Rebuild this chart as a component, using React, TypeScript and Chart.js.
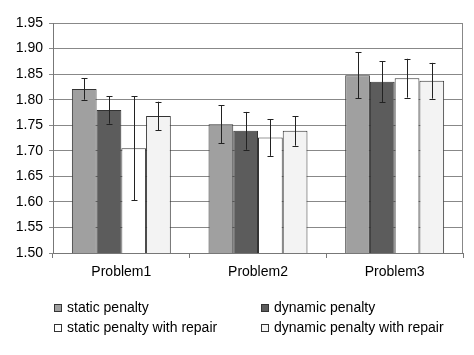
import React, { useEffect, useRef } from "react";
import { Chart, registerables } from "chart.js";

Chart.register(...registerables);

const categories = ["Problem1", "Problem2", "Problem3"];
const seriesNames = [
  "static penalty",
  "dynamic penalty",
  "static penalty with repair",
  "dynamic penalty with repair",
];
const staticPenalty = [1.821, 1.752, 1.848];
const dynamicPenalty = [1.78, 1.739, 1.835];
const staticRepair = [1.705, 1.726, 1.842];
const dynamicRepair = [1.768, 1.739, 1.837];
const staticPenaltyErr = [0.021, 0.037, 0.045];
const dynamicPenaltyErr = [0.027, 0.037, 0.04];
const staticRepairErr = [0.102, 0.036, 0.038];
const dynamicRepairErr = [0.028, 0.029, 0.035];
const yTicks = [1.5, 1.55, 1.6, 1.65, 1.7, 1.75, 1.8, 1.85, 1.9, 1.95];

const colors = ["#a0a0a0", "#5c5c5c", "#ffffff", "#f3f3f3"];
const FONT = "'Liberation Sans', Arial, sans-serif";

export default function App() {
  const ref = useRef<HTMLCanvasElement | null>(null);

  useEffect(() => {
    if (!ref.current) return;
    const values = [staticPenalty, dynamicPenalty, staticRepair, dynamicRepair];
    const errs = [staticPenaltyErr, dynamicPenaltyErr, staticRepairErr, dynamicRepairErr];

    const errorBars = {
      id: "errorBars",
      afterDatasetsDraw(chart: any) {
        const ctx = chart.ctx;
        const ys = chart.scales.y;
        ctx.save();
        ctx.strokeStyle = "#222";
        ctx.lineWidth = 1;
        values.forEach((vals, i) => {
          const meta = chart.getDatasetMeta(i);
          meta.data.forEach((el: any, j: number) => {
            const x = Math.round(el.x) + 0.5;
            const t = ys.getPixelForValue(vals[j] + errs[i][j]);
            const b = ys.getPixelForValue(vals[j] - errs[i][j]);
            ctx.beginPath();
            ctx.moveTo(x, t);
            ctx.lineTo(x, b);
            ctx.moveTo(x - 3, Math.round(t) + 0.5);
            ctx.lineTo(x + 3, Math.round(t) + 0.5);
            ctx.moveTo(x - 3, Math.round(b) + 0.5);
            ctx.lineTo(x + 3, Math.round(b) + 0.5);
            ctx.stroke();
          });
        });
        ctx.restore();
      },
      afterDraw(chart: any) {
        const ctx = chart.ctx;
        const a = chart.chartArea;
        ctx.save();
        ctx.strokeStyle = "#888";
        ctx.lineWidth = 1;
        const rx = Math.round(a.right) - 0.5;
        ctx.beginPath();
        ctx.moveTo(rx, a.top);
        ctx.lineTo(rx, a.bottom);
        ctx.stroke();
        // legend
        const cols = [a.left + 1, a.left + 208];
        const rows = [a.bottom + 55, a.bottom + 75];
        ctx.font = "14px " + FONT;
        ctx.textBaseline = "middle";
        ctx.textAlign = "left";
        seriesNames.forEach((name, i) => {
          const x = Math.round(cols[i % 2]);
          const y = Math.round(rows[Math.floor(i / 2)]);
          ctx.fillStyle = colors[i];
          ctx.fillRect(x, y - 4, 7, 7);
          ctx.strokeStyle = "#333";
          ctx.strokeRect(x + 0.5, y - 3.5, 7, 7);
          ctx.fillStyle = "#000";
          ctx.fillText(name, x + 13, y);
        });
        ctx.restore();
      },
    };

    const chart = new Chart(ref.current, {
      type: "bar",
      data: {
        labels: categories,
        datasets: values.map((v, i) => ({
          label: seriesNames[i],
          data: v,
          backgroundColor: colors[i],
          borderColor: "#333",
          borderWidth: 1,
          barPercentage: 1,
          categoryPercentage: 0.724,
        })),
      },
      options: {
        animation: false,
        responsive: true,
        maintainAspectRatio: false,
        layout: { padding: { left: 0, top: 23, right: 11, bottom: 0 } },
        plugins: { legend: { display: false }, tooltip: { enabled: false } },
        scales: {
          x: {
            afterFit(scale: any) {
              scale.height = 102;
            },
            grid: {
              display: true,
              drawOnChartArea: false,
              drawTicks: true,
              tickLength: 5,
              color: "#777",
              offset: true,
            },
            border: { display: true, color: "#777" },
            ticks: {
              color: "#000",
              font: { family: FONT, size: 14 },
              padding: 6,
            },
          },
          y: {
            min: 1.5,
            max: 1.95,
            afterFit(scale: any) {
              scale.width = 53;
            },
            afterBuildTicks(scale: any) {
              scale.ticks = yTicks.map((v) => ({ value: v }));
            },
            grid: { color: "#888", tickLength: 4, drawTicks: true },
            border: { display: true, color: "#777" },
            ticks: {
              color: "#000",
              font: { family: FONT, size: 14 },
              padding: 6,
              callback: (v: any) => Number(v).toFixed(2),
            },
          },
        },
      },
      plugins: [errorBars],
    });
    return () => chart.destroy();
  }, []);

  return (
    <div
      style={{
        position: "fixed",
        left: 0,
        top: 0,
        width: 474,
        height: 355,
        background: "#fff",
      }}
    >
      <canvas ref={ref} />
    </div>
  );
}
